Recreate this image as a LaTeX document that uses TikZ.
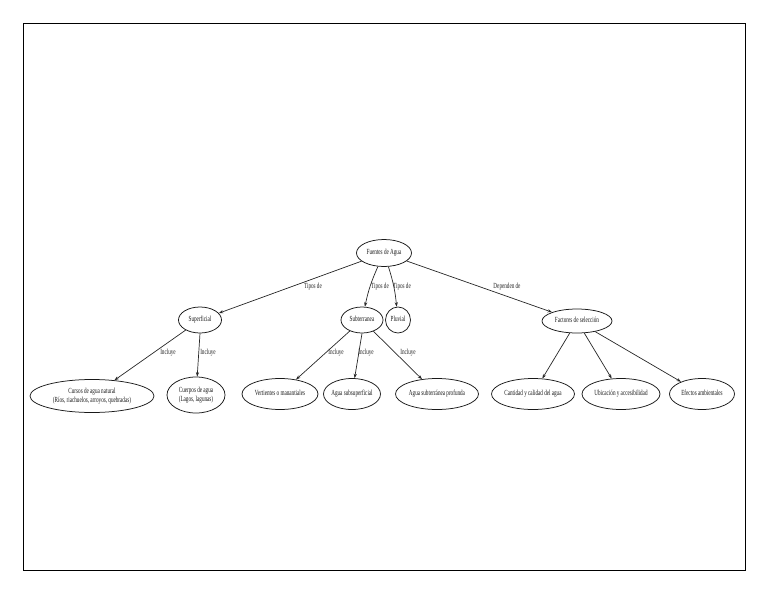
\documentclass[tikz,border=0pt]{standalone}
\usepackage{fontspec}
\setmainfont{Liberation Serif}[FakeStretch=0.66]
\usetikzlibrary{shapes.geometric,arrows.meta}
\newcommand\zt[1]{\makebox[0pt]{\begin{tabular}{@{}c@{}}#1\end{tabular}}}
\begin{document}
\begin{tikzpicture}[x=1pt,y=-1pt,
  el/.style={ellipse,draw=black!90,line width=0.75pt,inner sep=0pt,font=\fontsize{7.8}{9.5}\selectfont,text=black!90},
  ar/.style={draw=black!85,line width=0.7pt,-{Stealth[length=4.5pt,width=3.2pt]}},
  lb/.style={font=\fontsize{7.8}{9}\selectfont,inner sep=1pt,text=black!85}]
\useasboundingbox (0,0) rectangle (768,594);
\draw[line width=0.8pt] (23,23) rectangle (745,570);
\node[el,minimum width=55pt,minimum height=27pt] (fa) at (384,253) {\zt{Fuentes de Agua}};
\node[el,minimum width=43pt,minimum height=26pt] (sup) at (200,320) {\zt{Superficial}};
\node[el,minimum width=42pt,minimum height=26pt] (sub) at (362,320) {\zt{Subterranea}};
\node[el,minimum width=25pt,minimum height=26pt] (plu) at (398,320) {\zt{Pluvial}};
\node[el,minimum width=70pt,minimum height=24pt] (fac) at (577,321) {\zt{Factores de selección}};
\node[el,minimum width=124pt,minimum height=33pt] (cur) at (92,396) {\zt{Cursos de agua natural\\(Ríos, riachuelos, arroyos, quebradas)}};
\node[el,minimum width=58pt,minimum height=36pt] (cue) at (196,395) {\zt{Cuerpos de agua\\(Lagos, lagunas)}};
\node[el,minimum width=76pt,minimum height=31pt] (ver) at (280,394) {\zt{Vertientes o manantiales}};
\node[el,minimum width=57pt,minimum height=31pt] (ass) at (352,394) {\zt{Agua subsuperficial}};
\node[el,minimum width=83pt,minimum height=31pt] (asp) at (437,394) {\zt{Agua subterránea profunda}};
\node[el,minimum width=83pt,minimum height=31pt] (can) at (533,394) {\zt{Cantidad y calidad del agua}};
\node[el,minimum width=78pt,minimum height=31pt] (ubi) at (621,394) {\zt{Ubicación y accesibilidad}};
\node[el,minimum width=65pt,minimum height=31pt] (efe) at (702,394) {\zt{Efectos ambientales}};
\draw[ar] (fa) -- (sup);
\draw[ar] (fa) to[bend right=6] (sub);
\draw[ar] (fa) to[bend left=6] (plu);
\draw[ar] (fa) -- (fac);
\draw[ar] (sup) -- (cur);
\draw[ar] (sup.south) -- (cue);
\draw[ar] (sub) -- (ver);
\draw[ar] (sub.south) -- (ass);
\draw[ar] (sub) -- (asp);
\draw[ar] (fac) -- (can);
\draw[ar] (fac) -- (ubi);
\draw[ar] (fac) -- (efe);
\node[lb] (l1) at (313,287) {Tipos de};
\node[lb] (l2) at (380,287) {Tipos de};
\node[lb] (l3) at (402,287) {Tipos de};
\node[lb] (l4) at (507,287) {Dependen de};
\node[lb] (l5) at (168,353) {Incluye};
\node[lb] (l6) at (208,353) {Incluye};
\node[lb] (l7) at (336,353) {Incluye};
\node[lb] (l8) at (366,353) {Incluye};
\node[lb] (l9) at (408,353) {Incluye};
\end{tikzpicture}
\end{document}
